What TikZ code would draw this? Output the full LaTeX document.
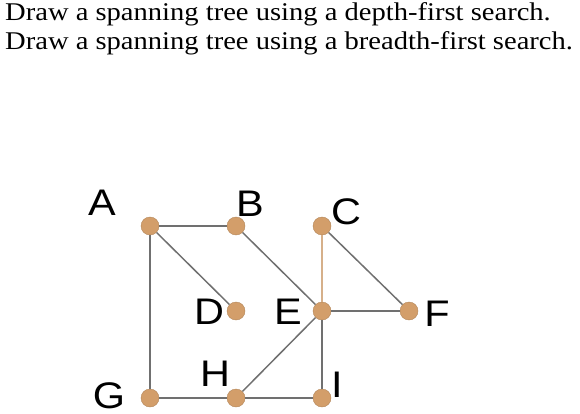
\documentclass[tikz,border=0pt]{standalone}
\usepackage{fontspec}
\setmainfont[FakeStretch=1.12]{Liberation Serif}
\newfontfamily\labelfont[FakeStretch=1.12]{Liberation Sans}
\definecolor{vertexfill}{RGB}{211,158,106}
\definecolor{edgegray}{RGB}{112,112,112}
\definecolor{edgetan}{RGB}{214,176,138}
\tikzset{
	vertex/.style={circle,fill=vertexfill,draw=vertexfill!85!black,line width=0.4,minimum size=18,inner sep=0},
	lbl/.style={inner sep=0,font=\labelfont\fontsize{37}{37}\selectfont},
	edge/.style={draw=edgegray,line width=1.5},
	question/.style={anchor=base west,inner sep=0,font=\fontsize{25.5}{30}\selectfont}
}
\begin{document}
\begin{tikzpicture}[x=1pt,y=-1pt]
			\useasboundingbox (0,0) rectangle (580,414);
			\node[question] (q1) at (5,21) {Draw a spanning tree using a depth-first search.};
			\node[question] (q2) at (5,50) {Draw a spanning tree using a breadth-first search.};
			% vertices
			\node[vertex] (A) at (150,226) {};
			\node[vertex] (B) at (236,226) {};
			\node[vertex] (C) at (322,226) {};
			\node[vertex] (D) at (236,311) {};
			\node[vertex] (E) at (322,311) {};
			\node[vertex] (F) at (409,311) {};
			\node[vertex] (G) at (150,398) {};
			\node[vertex] (H) at (236,398) {};
			\node[vertex] (I) at (322,398) {};
			% labels
			\node[lbl] (lA) at (102,203) {A};
			\node[lbl] (lB) at (250,204) {B};
			\node[lbl] (lC) at (346,212) {C};
			\node[lbl] (lD) at (209,312) {D};
			\node[lbl] (lE) at (288,312) {E};
			\node[lbl] (lF) at (437,314) {F};
			\node[lbl] (lG) at (109,396) {G};
			\node[lbl] (lH) at (215,374) {H};
			\node[lbl] (lI) at (337,385) {I};
			% edges
			\draw[edge] (A) -- (B);
			\draw[edge] (A) -- (D);
			\draw[edge] (A) -- (G);
			\draw[edge] (B) -- (E);
			\draw[edge,draw=edgetan] (C) -- (E);
			\draw[edge] (C) -- (F);
			\draw[edge] (E) -- (F);
			\draw[edge] (E) -- (H);
			\draw[edge] (E) -- (I);
			\draw[edge] (G) -- (H);
			\draw[edge] (H) -- (I);
\end{tikzpicture}
\end{document}
